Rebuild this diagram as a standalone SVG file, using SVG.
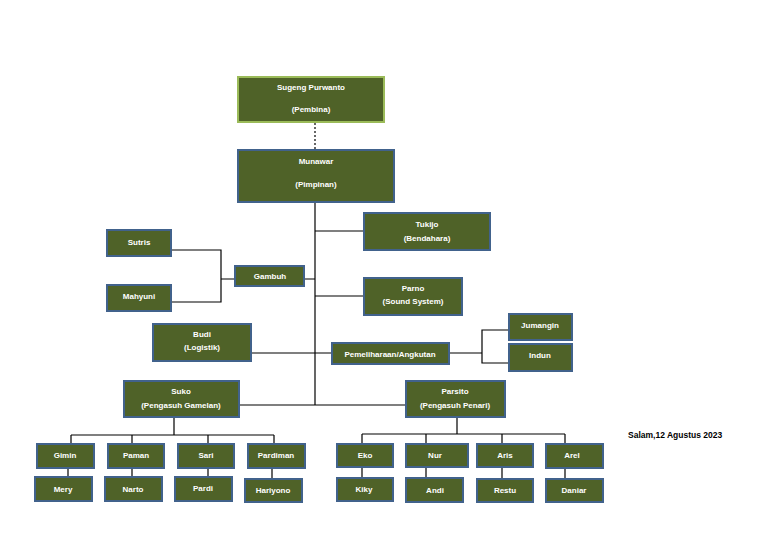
<svg xmlns="http://www.w3.org/2000/svg" width="768" height="544" viewBox="0 0 768 544">
<style>
.b{fill:#4F6228;stroke:#41628C;stroke-width:2}
.g{fill:#4F6228;stroke:#9BBB59;stroke-width:2}
.t{font-family:"Liberation Sans",Arial,sans-serif;font-size:8px;font-weight:bold;fill:#FFFFFF;text-anchor:middle}
.c{fill:none;stroke:#000;stroke-width:1.2}
.s{font-family:"Liberation Sans",Arial,sans-serif;font-size:8.5px;font-weight:bold;fill:#000}
</style>
<rect width="768" height="544" fill="#fff"/>
<g id="connectors">
<line class="c" x1="315" y1="123" x2="315" y2="150" stroke-dasharray="2,2"/>
<path class="c" d="M315,202V405"/>
<path class="c" d="M315,231H364M315,296H364M304,279H315"/>
<path class="c" d="M171,250H221V302H171M221,279H234"/>
<path class="c" d="M251,353H332M449,353H482M509,330H482V363H509"/>
<path class="c" d="M239,405H406"/>
<path class="c" d="M174,417V435M71,435H274M71,435V444M132,435V444M208,435V444M274,435V444"/>
<path class="c" d="M68,468V477M132,468V477M208,468V477M272,468V479"/>
<path class="c" d="M457,417V434M362,434H565M362,434V444M426,434V444M502,434V444M565,434V444"/>
<path class="c" d="M362,467V478M426,467V478M502,467V479M565,467V478"/>
</g>
<g id="sugeng"><rect class="g" x="238" y="77" width="146" height="45"/><text class="t" x="311" y="90">Sugeng Purwanto</text><text class="t" x="311" y="112">(Pembina)</text></g>
<g id="munawar"><rect class="b" x="238" y="150" width="156" height="52"/><text class="t" x="316" y="164">Munawar</text><text class="t" x="316" y="187">(Pimpinan)</text></g>
<g id="tukijo"><rect class="b" x="364" y="213" width="126" height="37"/><text class="t" x="427" y="227">Tukijo</text><text class="t" x="427" y="241">(Bendahara)</text></g>
<g id="parno"><rect class="b" x="364" y="278" width="98" height="37"/><text class="t" x="413" y="291">Parno</text><text class="t" x="413" y="304">(Sound System)</text></g>
<g id="gambuh"><rect class="b" x="235" y="266" width="69" height="20"/><text class="t" x="270" y="279">Gambuh</text></g>
<g id="sutris"><rect class="b" x="107" y="230" width="64" height="26"/><text class="t" x="139" y="245">Sutris</text></g>
<g id="mahyuni"><rect class="b" x="107" y="285" width="64" height="26"/><text class="t" x="139" y="299">Mahyuni</text></g>
<g id="budi"><rect class="b" x="153" y="324" width="98" height="37"/><text class="t" x="202" y="337">Budi</text><text class="t" x="202" y="350">(Logistik)</text></g>
<g id="pemeliharaan"><rect class="b" x="332" y="343" width="117" height="21"/><text class="t" x="390" y="357">Pemeliharaan/Angkutan</text></g>
<g id="jumangin"><rect class="b" x="509" y="314" width="63" height="26"/><text class="t" x="540" y="328">Jumangin</text></g>
<g id="indun"><rect class="b" x="509" y="344" width="63" height="27"/><text class="t" x="540" y="358">Indun</text></g>
<g id="suko"><rect class="b" x="124" y="381" width="115" height="36"/><text class="t" x="181" y="394">Suko</text><text class="t" x="181" y="408">(Pengasuh Gamelan)</text></g>
<g id="parsito"><rect class="b" x="406" y="381" width="99" height="36"/><text class="t" x="455" y="394">Parsito</text><text class="t" x="455" y="408">(Pengasuh Penari)</text></g>
<g id="gimin"><rect class="b" x="37" y="444" width="57" height="24"/><text class="t" x="65" y="458">Gimin</text></g>
<g id="paman"><rect class="b" x="108" y="444" width="56" height="24"/><text class="t" x="136" y="458">Paman</text></g>
<g id="sari"><rect class="b" x="178" y="444" width="56" height="24"/><text class="t" x="206" y="458">Sari</text></g>
<g id="pardiman"><rect class="b" x="248" y="444" width="57" height="24"/><text class="t" x="276" y="458">Pardiman</text></g>
<g id="mery"><rect class="b" x="35" y="477" width="57" height="24"/><text class="t" x="63" y="492">Mery</text></g>
<g id="narto"><rect class="b" x="105" y="477" width="57" height="24"/><text class="t" x="133" y="492">Narto</text></g>
<g id="pardi"><rect class="b" x="175" y="477" width="57" height="24"/><text class="t" x="203" y="491">Pardi</text></g>
<g id="hariyono"><rect class="b" x="245" y="479" width="57" height="23"/><text class="t" x="273" y="493">Hariyono</text></g>
<g id="eko"><rect class="b" x="337" y="444" width="56" height="23"/><text class="t" x="365" y="458">Eko</text></g>
<g id="nur"><rect class="b" x="406" y="444" width="62" height="23"/><text class="t" x="435" y="458">Nur</text></g>
<g id="aris"><rect class="b" x="477" y="444" width="56" height="23"/><text class="t" x="505" y="458">Aris</text></g>
<g id="arel"><rect class="b" x="546" y="444" width="57" height="24"/><text class="t" x="572" y="458">Arel</text></g>
<g id="kiky"><rect class="b" x="337" y="478" width="56" height="23"/><text class="t" x="364" y="492">Kiky</text></g>
<g id="andi"><rect class="b" x="406" y="478" width="57" height="24"/><text class="t" x="435" y="493">Andi</text></g>
<g id="restu"><rect class="b" x="477" y="479" width="56" height="23"/><text class="t" x="505" y="493">Restu</text></g>
<g id="daniar"><rect class="b" x="546" y="479" width="57" height="23"/><text class="t" x="574" y="493">Daniar</text></g>
<text class="s" x="628" y="438">Salam,12 Agustus 2023</text>
</svg>
